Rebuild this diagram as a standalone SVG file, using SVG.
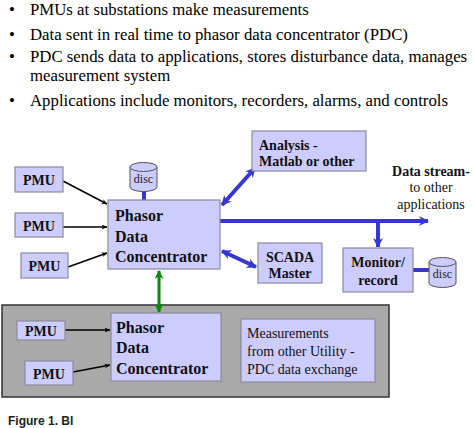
<svg xmlns="http://www.w3.org/2000/svg" width="474" height="428" viewBox="0 0 474 428">
<defs>
<marker id="ab" viewBox="0 0 10 10" refX="9" refY="5" markerWidth="6" markerHeight="6" orient="auto-start-reverse" markerUnits="userSpaceOnUse"><path d="M0,1 L10,5 L0,9 L3,5 z" fill="#000"/></marker>
<marker id="ablue" viewBox="0 0 10 10" refX="9" refY="5" markerWidth="14" markerHeight="10" orient="auto-start-reverse" markerUnits="userSpaceOnUse"><path d="M0,0 L10,5 L0,10 L3,5 z" fill="#3737d0"/></marker>
<marker id="agreen" viewBox="0 0 10 10" refX="9" refY="5" markerWidth="12" markerHeight="9" orient="auto-start-reverse" markerUnits="userSpaceOnUse"><path d="M0,0 L10,5 L0,10 L3,5 z" fill="#0a8a0a"/></marker>
</defs>
<style>
.bul{font-size:16.8px;fill:#000}
.box{fill:#ccccff;stroke:#8a8a9a;stroke-width:1.2}
.b{font-weight:bold;font-size:14px;fill:#111}
.pdc{font-weight:bold;font-size:16px;fill:#111}
.r{font-size:14px;fill:#111}
.d{font-size:12px;fill:#222}
.cyl{fill:#ccccff;stroke:#555;stroke-width:1}
.blk{stroke:#000;stroke-width:1.6;fill:none;marker-end:url(#ab)}
.blu{stroke:#3737d0;stroke-width:4;fill:none}
</style>
<g font-family="Liberation Serif, Times New Roman, Times, serif">
<g id="bullets">
<text class="bul" x="9" y="15">•</text><text class="bul" x="30" y="15">PMUs at substations make measurements</text>
<text class="bul" x="9" y="40">•</text><text class="bul" x="30" y="40">Data sent in real time to phasor data concentrator (PDC)</text>
<text class="bul" x="9" y="62">•</text><text class="bul" x="30" y="62">PDC sends data to applications, stores disturbance data, manages</text>
<text class="bul" x="30" y="81">measurement system</text>
<text class="bul" x="9" y="106">•</text><text class="bul" x="30" y="106">Applications include monitors, recorders, alarms, and controls</text>
</g>
<g id="utility-area"><rect x="2" y="305" width="387" height="92" fill="#a9a9a9" stroke="#333" stroke-width="1.5"/></g>
<g id="connectors">
<line class="blk" x1="63" y1="181" x2="107" y2="204"/>
<line class="blk" x1="63" y1="227" x2="107" y2="227"/>
<line class="blk" x1="68" y1="267" x2="107" y2="253"/>
<line class="blu" x1="144" y1="191" x2="144" y2="200"/>
<line class="blu" x1="222" y1="205" x2="255" y2="168" marker-start="url(#ablue)" marker-end="url(#ablue)"/>
<line class="blu" x1="220" y1="221" x2="428" y2="221" marker-end="url(#ablue)"/>
<line class="blu" x1="378" y1="221" x2="378" y2="247" marker-end="url(#ablue)"/>
<line class="blu" x1="222" y1="251" x2="256" y2="267" marker-start="url(#ablue)" marker-end="url(#ablue)"/>
<line class="blu" x1="413" y1="270" x2="430" y2="270"/>
<line stroke="#0a8a0a" stroke-width="3" x1="159" y1="271" x2="159" y2="312" marker-start="url(#agreen)" marker-end="url(#agreen)"/>
<line class="blk" x1="65" y1="330" x2="110" y2="330"/>
<line class="blk" x1="73" y1="372" x2="110" y2="365"/>
</g>
<g id="pmu1"><rect class="box" x="15" y="167" width="48" height="25"/><text class="b" x="39" y="185" text-anchor="middle">PMU</text></g>
<g id="pmu2"><rect class="box" x="15" y="213" width="48" height="24"/><text class="b" x="39" y="231" text-anchor="middle">PMU</text></g>
<g id="pmu3"><rect class="box" x="21" y="253" width="47" height="25"/><text class="b" x="44.5" y="271" text-anchor="middle">PMU</text></g>
<g id="disc1"><path class="cyl" d="M130,167 L130,187 A13.5,4.5 0 0 0 157,187 L157,167"/><ellipse class="cyl" cx="143.5" cy="167" rx="13.5" ry="4.5"/><text class="d" x="143.5" y="183" text-anchor="middle">disc</text></g>
<g id="pdc-main"><rect class="box" x="108" y="200" width="112" height="69"/><text class="pdc" x="115" y="221">Phasor</text><text class="pdc" x="115" y="242">Data</text><text class="pdc" x="115" y="262">Concentrator</text></g>
<g id="analysis"><rect class="box" x="252" y="131" width="114" height="40"/><text class="b" x="259" y="150">Analysis -</text><text class="b" x="259" y="166">Matlab or other</text></g>
<g id="data-stream"><text class="b" x="431" y="176" text-anchor="middle">Data stream-</text><text class="r" x="431" y="192" text-anchor="middle">to other</text><text class="r" x="431" y="209" text-anchor="middle">applications</text></g>
<g id="scada"><rect class="box" x="258" y="243" width="64" height="40"/><text class="b" x="290" y="262" text-anchor="middle">SCADA</text><text class="b" x="290" y="278" text-anchor="middle">Master</text></g>
<g id="monitor"><rect class="box" x="343" y="248" width="70" height="44" stroke="#333"/><text class="b" x="378" y="267" text-anchor="middle">Monitor/</text><text class="b" x="378" y="285" text-anchor="middle">record</text></g>
<g id="disc2"><path class="cyl" d="M429,262 L429,283 A13.5,4.5 0 0 0 456,283 L456,262"/><ellipse class="cyl" cx="442.5" cy="262" rx="13.5" ry="4.5"/><text class="d" x="442.5" y="278" text-anchor="middle">disc</text></g>
<g id="pmu4"><rect class="box" x="17" y="321" width="48" height="19"/><text class="b" x="41" y="336" text-anchor="middle">PMU</text></g>
<g id="pmu5"><rect class="box" x="25" y="361" width="48" height="24"/><text class="b" x="49" y="379" text-anchor="middle">PMU</text></g>
<g id="pdc-other"><rect class="box" x="111" y="313" width="110" height="68"/><text class="pdc" x="116" y="333">Phasor</text><text class="pdc" x="116" y="353">Data</text><text class="pdc" x="116" y="374">Concentrator</text></g>
<g id="measurements"><rect class="box" x="241" y="319" width="134" height="63" stroke="#bbb"/><text class="r" x="247" y="338">Measurements</text><text class="r" x="247" y="356">from other Utility -</text><text class="r" x="247" y="374">PDC data exchange</text></g>
</g>
<g id="caption"><text x="8" y="425" font-family="Liberation Sans, Arial, sans-serif" font-weight="bold" font-size="12" fill="#222">Figure 1. Bl</text></g>
</svg>
